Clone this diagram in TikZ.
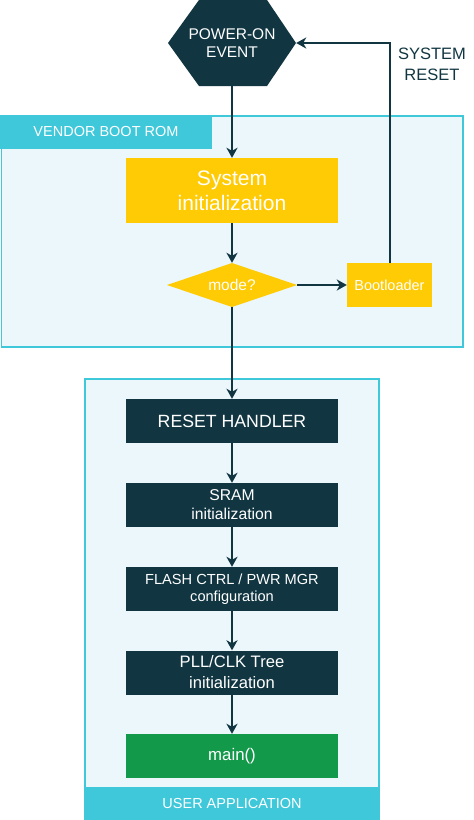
\documentclass[tikz,border=0pt]{standalone}
\usepackage{fontspec}
\setmainfont{Liberation Sans}
\usetikzlibrary{arrows.meta}
\definecolor{navy}{HTML}{113642}
\definecolor{ylw}{HTML}{FFCB05}
\definecolor{cyn}{HTML}{3FC8DA}
\definecolor{lightbg}{HTML}{EBF7FA}
\definecolor{grn}{HTML}{12994A}
\tikzset{
  conn/.style={draw=navy,line width=2pt,-{Stealth[length=10pt,width=11pt,inset=3pt]}},
  darkbox/.style={rectangle,fill=navy,text=white,minimum width=212pt,minimum height=44pt,inner sep=0pt,align=center},
  ylwbox/.style={rectangle,fill=ylw,text=white,inner sep=0pt,align=center},
  container/.style={draw=cyn,line width=1.6pt,fill=lightbg},
  tablabel/.style={text=white,inner sep=0pt,font=\fontsize{14.5}{17}\selectfont}
}
\begin{document}
\begin{tikzpicture}[x=1pt,y=-1pt]
\useasboundingbox (0,0) rectangle (474,820);
\fill[white] (0,0) rectangle (474,820);
% vendor boot rom container
\path[container] (1.5,116) rectangle (463,347);
\fill[cyn] (0,115.2) rectangle (212,149);
\node[tablabel] (vlabel) at (106,132) {VENDOR BOOT ROM};
% user application container
\path[container] (85,379) rectangle (379,821);
\fill[cyn] (84.2,787) rectangle (379.8,821);
\node[tablabel] (ulabel) at (232,803) {USER APPLICATION};
% hexagon
\fill[navy] (168,43) -- (199,0) -- (267,0) -- (296,43) -- (267,86) -- (199,86) -- cycle;
\node[minimum width=128pt,minimum height=86pt,inner sep=0pt,text=white,align=center,
  font=\fontsize{15.5}{18}\selectfont] (pwr) at (232,43) {POWER-ON\\EVENT};
% vendor nodes
\node[ylwbox,minimum width=212pt,minimum height=65pt,font=\fontsize{21}{25}\selectfont] (sys) at (232,190.5) {System\\initialization};
\fill[ylw] (167,285) -- (232,263) -- (297,285) -- (232,307) -- cycle;
\node[minimum width=130pt,minimum height=44pt,inner sep=0pt,text=white,
  font=\fontsize{15.5}{18}\selectfont] (mode) at (232,285) {mode?};
\node[ylwbox,minimum width=85pt,minimum height=44pt,font=\fontsize{14.5}{17}\selectfont] (boot) at (389.5,285) {Bootloader};
\node[text=navy,align=center,inner sep=0pt,font=\fontsize{16.5}{21}\selectfont] (sreset) at (432,64.5) {SYSTEM\\RESET};
% user nodes
\node[darkbox,font=\fontsize{17.7}{21}\selectfont] (reset) at (232,421) {RESET HANDLER};
\node[darkbox,font=\fontsize{15.7}{19}\selectfont] (sram) at (232,505) {SRAM\\initialization};
\node[darkbox,font=\fontsize{14.6}{17}\selectfont] (flash) at (232,589) {FLASH CTRL / PWR MGR\\configuration};
\node[darkbox,font=\fontsize{16.6}{21}\selectfont] (pll) at (232,672.5) {PLL/CLK Tree\\initialization};
\node[darkbox,fill=grn,font=\fontsize{16.8}{20}\selectfont] (main) at (232,756) {main()};
% connectors
\coordinate (corner) at (boot.north |- pwr.east);
\draw[conn] (pwr.south) -- (sys.north);
\draw[conn] (sys.south) -- (mode.north);
\draw[conn] (mode.east) -- (boot.west);
\draw[conn] (boot.north) -- (corner) -- (pwr.east);
\draw[conn] (mode.south) -- (reset.north);
\draw[conn] (reset.south) -- (sram.north);
\draw[conn] (sram.south) -- (flash.north);
\draw[conn] (flash.south) -- (pll.north);
\draw[conn] (pll.south) -- (main.north);
\end{tikzpicture}
\end{document}
